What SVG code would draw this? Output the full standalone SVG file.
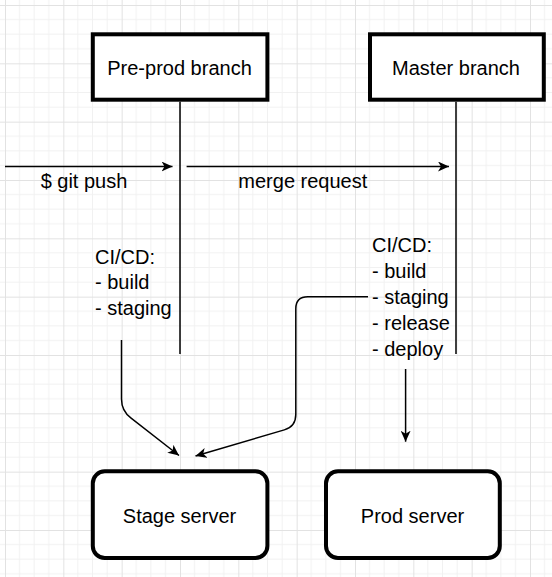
<svg xmlns="http://www.w3.org/2000/svg" width="552" height="577" viewBox="0 0 552 577">
  <defs>
    <pattern id="grid" patternUnits="userSpaceOnUse" x="5" y="5" width="58.333" height="58.333">
      <path d="M14.583,0 V58.333 M29.167,0 V58.333 M43.75,0 V58.333 M0,14.583 H58.333 M0,29.167 H58.333 M0,43.75 H58.333" stroke="#f1f1f1" stroke-width="1" fill="none"/>
      <path d="M0.5,0 V58.333 M0,0.5 H58.333" stroke="#e2e2e2" stroke-width="1" fill="none"/>
    </pattern>
    <marker id="arrow" markerUnits="userSpaceOnUse" viewBox="0 0 11 10" refX="11" refY="5" markerWidth="11" markerHeight="10" orient="auto">
      <path d="M0,0 L11,5 L0,10 L3,5 Z" fill="#000"/>
    </marker>
  </defs>
  <style>
    .box { fill: #fff; stroke: #000; stroke-width: 4; }
    .lbl { font-family: "Liberation Sans", Arial, Helvetica, sans-serif; font-size: 20px; fill: #000; }
    .mid { text-anchor: middle; }
    .edge { fill: none; stroke: #000; stroke-width: 1.5; }
    .arr { marker-end: url(#arrow); }
  </style>
  <rect width="552" height="577" fill="#fff"/>
  <rect width="552" height="577" fill="url(#grid)"/>

  <g id="connectors">
    <path class="edge" d="M180,101.7 V354"/>
    <path class="edge" d="M456,101.7 V354"/>
    <path class="edge arr" d="M5,166.5 H172.5"/>
    <path class="edge arr" d="M186.6,166.5 H449"/>
    <path class="edge arr" d="M121.5,340 V399 Q121.5,411 131.1,418.2 L179,455.5"/>
    <path class="edge arr" d="M368,296.7 H307.8 Q295.8,296.7 295.8,308.7 V414.5 Q295.8,426.5 284.3,429.9 L195.5,456"/>
    <path class="edge arr" d="M405.6,369 V441.7"/>
  </g>

  <g id="preprod-branch">
    <rect class="box" x="92.8" y="34.3" width="174.6" height="65.4"/>
    <text class="lbl mid" x="179.5" y="75">Pre-prod branch</text>
  </g>
  <g id="master-branch">
    <rect class="box" x="370" y="34.3" width="173.8" height="65.4"/>
    <text class="lbl mid" x="456" y="75">Master branch</text>
  </g>
  <g id="stage-server">
    <rect class="box" x="92.8" y="471.3" width="174.6" height="86.7" rx="12" ry="12"/>
    <text class="lbl mid" x="179.5" y="522.7">Stage server</text>
  </g>
  <g id="prod-server">
    <rect class="box" x="326" y="471.3" width="173.8" height="86.7" rx="12" ry="12"/>
    <text class="lbl mid" x="412.5" y="522.7">Prod server</text>
  </g>

  <g id="label-git-push">
    <text class="lbl mid" x="84" y="187.5">$ git push</text>
  </g>
  <g id="label-merge-request">
    <text class="lbl mid" x="302.8" y="187.5">merge request</text>
  </g>
  <g id="label-cicd-preprod">
    <text class="lbl" x="95" y="263.5">CI/CD:</text>
    <text class="lbl" x="95" y="289.3">- build</text>
    <text class="lbl" x="95" y="315">- staging</text>
  </g>
  <g id="label-cicd-master">
    <text class="lbl" x="372" y="251.7">CI/CD:</text>
    <text class="lbl" x="372" y="277.5">- build</text>
    <text class="lbl" x="372" y="303.8">- staging</text>
    <text class="lbl" x="372" y="329.8">- release</text>
    <text class="lbl" x="372" y="355.7">- deploy</text>
  </g>
</svg>
